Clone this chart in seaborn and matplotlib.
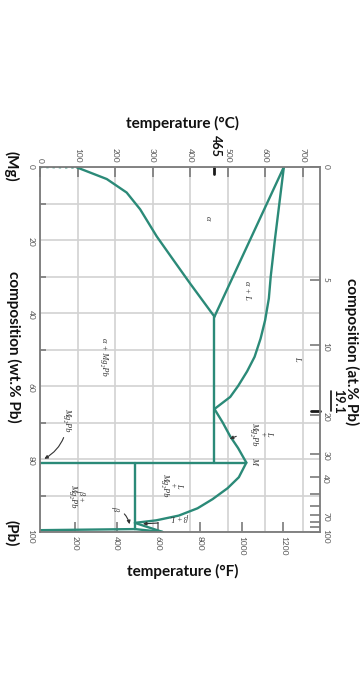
import numpy as np
import matplotlib
matplotlib.use("Agg")
import matplotlib.pyplot as plt
import seaborn as sns
from matplotlib.ticker import FixedLocator

sns.set_theme(style="white")
plt.rcParams['font.family'] = ['Lato', 'DejaVu Sans']

# phase boundaries of the Mg-Pb system: composition (wt.% Pb) and temperature (degC)
solvus_wt = [0.1, 3.3, 7.0, 11.6, 19.0, 25.4, 31.9, 41.0]
solvus_T = [98, 178, 231, 267, 311, 355, 400, 465]
solvus_low_wt = [0, 0.1]
solvus_low_T = [0, 98]
solidus_wt = [0, 41.0]
solidus_T = [650, 465]
liq_mg_wt = [0, 10, 20, 30, 36, 42, 47, 52, 56, 60, 63, 66.3]
liq_mg_T = [650, 638, 626, 615, 610, 600, 588, 572, 552, 528, 507, 465]
liq_up_wt = [66.3, 70, 73.8, 77, 81]
liq_up_T = [465, 487, 507, 528, 550]
liq_down_wt = [81, 85, 88, 91, 93.5, 95.5, 96.8, 97.5]
liq_down_T = [550, 530, 500, 460, 420, 370, 310, 253]
eut_a_wt = [41.0, 81]
eut_a_T = [465, 465]
mg2pb_wt = [81, 81]
mg2pb_T = [0, 550]
eut_b_wt = [81, 99.2]
eut_b_T = [253, 253]
beta_liq_wt = [97.5, 100]
beta_liq_T = [253, 327]
beta_sol_wt = [99.2, 100]
beta_sol_T = [253, 327]
beta_solvus_wt = [99.2, 99.5]
beta_solvus_T = [253, 0]

degC_ticks = [0, 100, 200, 300, 400, 500, 600, 700]
degF_ticks = [200, 400, 600, 800, 1000, 1200]
wt_ticks = [0, 20, 40, 60, 80, 100]
wt_minor = [10, 30, 50, 70, 90]
at_ticks = [0, 5, 10, 20, 30, 40, 70, 100]
at_minor = [50, 60, 80, 90]

M_MG, M_PB = 24.305, 207.2


def wt2at(w):
    w = np.clip(np.asarray(w, dtype=float), 0, 100)
    a = w / M_PB
    b = (100 - w) / M_MG
    return 100 * a / (a + b)


def at2wt(x):
    x = np.clip(np.asarray(x, dtype=float), 0, 100)
    a = x * M_PB
    b = (100 - x) * M_MG
    return 100 * a / (a + b)


def c2f(t):
    return np.asarray(t) * 9 / 5 + 32


def f2c(t):
    return (np.asarray(t) - 32) * 5 / 9


W, H = 362, 700
fig = plt.figure(figsize=(W / 100, H / 100), dpi=100)
ax = fig.add_axes([40 / W, 1 - 532 / H, 279.5 / W, 365 / H])

teal = '#2b8a78'
lines = [(solvus_wt, solvus_T), (solidus_wt, solidus_T), (liq_mg_wt, liq_mg_T),
         (liq_up_wt, liq_up_T), (liq_down_wt, liq_down_T), (eut_a_wt, eut_a_T),
         (mg2pb_wt, mg2pb_T), (eut_b_wt, eut_b_T), (beta_liq_wt, beta_liq_T),
         (beta_sol_wt, beta_sol_T), (beta_solvus_wt, beta_solvus_T)]
for wt, T in lines:
    sns.lineplot(x=T, y=wt, sort=False, estimator=None, color=teal, lw=1.7, ax=ax)
sns.lineplot(x=solvus_low_T, y=solvus_low_wt, sort=False, estimator=None,
             color=teal, lw=1.7, ls=':', ax=ax)

ax.set_xlim(0, 745)
ax.set_ylim(100, 0)
ax.set_xlabel('')
ax.set_ylabel('')

# grid
ax.xaxis.set_major_locator(FixedLocator(degC_ticks))
ax.yaxis.set_major_locator(FixedLocator(wt_ticks))
ax.yaxis.set_minor_locator(FixedLocator(wt_minor))
ax.grid(True, which='major', axis='x', color='#d2d2d2', lw=1.2)
ax.grid(True, which='both', axis='y', color='#d2d2d2', lw=1.2)
ax.set_axisbelow(True)
for s in ax.spines.values():
    s.set_color('#7a7a7a')
    s.set_linewidth(1.3)

tick_kw = dict(direction='in', colors='#7a7a7a', labelcolor='#555555',
               labelsize=6, labelrotation=-90, width=1.2)
ax.xaxis.tick_top()
ax.tick_params(axis='x', which='major', length=7, pad=3, **tick_kw)
ax.tick_params(axis='y', which='major', length=7, pad=4, **tick_kw)
ax.tick_params(axis='y', which='minor', length=4, direction='in',
               colors='#7a7a7a', width=1.2, left=True)

secx = ax.secondary_xaxis('bottom', functions=(c2f, f2c))
secx.xaxis.set_major_locator(FixedLocator(degF_ticks))
secx.tick_params(axis='x', length=7, pad=3, **tick_kw)
secx.spines['bottom'].set_visible(False)

secy = ax.secondary_yaxis('right', functions=(wt2at, at2wt))
secy.yaxis.set_major_locator(FixedLocator(at_ticks))
secy.yaxis.set_minor_locator(FixedLocator(at_minor))
secy.tick_params(axis='y', which='major', length=7, pad=2, **tick_kw)
secy.tick_params(axis='y', which='minor', length=7, direction='in',
                 colors='#7a7a7a', width=1.2)
secy.spines['right'].set_visible(False)

# highlighted marks
ax.plot([465, 465], [0, 1.8], color='k', lw=2, clip_on=False)
w191 = float(at2wt(19.1))
ax.plot([722, 745], [w191, w191], color='k', lw=2, clip_on=False)

# region labels
lab = dict(family=['Liberation Serif', 'DejaVu Serif'], style='italic',
           fontsize=6, color='#333333', ha='center', va='center')
ax.text(448, 14.0, 'α', rotation=-90, **lab)
ax.text(552, 33.7, 'α + L', rotation=-90, **lab)
ax.text(685, 52.3, 'L', rotation=-90, **lab)
ax.text(171, 52.1, 'α + Mg₂Pb', rotation=-90, **lab)
ax.text(590, 73.0, 'L\n+\nMg₂Pb', rotation=-90, linespacing=0.9, **lab)
ax.text(570, 80.3, 'M', rotation=-90, **lab)
ax.text(352, 87.1, 'L\n+\nMg₂Pb', rotation=-90, linespacing=0.9, **lab)
ax.text(99, 90.1, 'β +\nMg₂Pb', rotation=-90, linespacing=0.9, **lab)
ax.text(372, 95.9, 'β + L', rotation=180, **lab)

arrow = dict(arrowstyle='-|>', color='#333333', lw=0.8, mutation_scale=5)
ax.annotate('', xy=(499, 74.8), xytext=(530, 73.5), arrowprops=arrow)
ax.annotate('', xy=(267, 97.8), xytext=(322, 97.5), arrowprops=arrow)
ax.annotate('β', xy=(240, 98.6), xytext=(200, 93.4), rotation=-90, annotation_clip=False,
            arrowprops=dict(arrow, connectionstyle='arc3,rad=-0.3'), **lab)
ax.annotate('Mg₂Pb', xy=(5, 80.3), xytext=(72, 69.3), rotation=-90, annotation_clip=False,
            arrowprops=dict(arrow, connectionstyle='arc3,rad=-0.3'), **lab)

# outer labels
big = dict(fontsize=11, fontweight='bold', color='#111111', ha='center', va='center')
fig.text(183 / W, 1 - 123 / H, 'temperature (°C)', **big)
fig.text(183 / W, 1 - 571 / H, 'temperature (°F)', **big)
fig.text(352 / W, 1 - 352 / H, 'composition (at.% Pb)', rotation=-90, **big)
fig.text(14 / W, 1 - 347 / H, 'composition (wt.% Pb)', rotation=-90, **big)
fig.text(11 / W, 1 - 166 / H, '(Mg)', rotation=-90, **big)
fig.text(11 / W, 1 - 533 / H, '(Pb)', rotation=-90, **big)
fig.text(216 / W, 1 - 146 / H, '465', rotation=-90, **dict(big, fontsize=9))
fig.text(338 / W, 1 - 401 / H, '19.1', rotation=-90, **dict(big, fontsize=9))
fig.add_artist(plt.Line2D([331 / W, 331 / W], [1 - 391 / H, 1 - 411 / H],
                          color='#111111', lw=1.2))

fig.savefig('out.png', dpi=100)
